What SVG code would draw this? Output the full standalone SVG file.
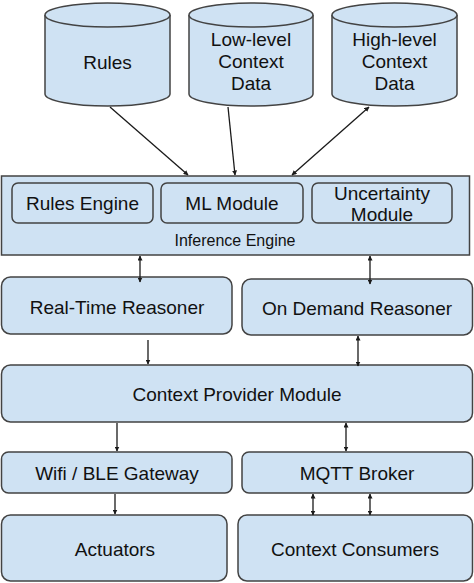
<svg xmlns="http://www.w3.org/2000/svg" width="474" height="583" viewBox="0 0 474 583">
<defs>
<style>
.n{fill:#cfe2f3;stroke:#434343;stroke-width:1.5}
.t{font-family:"Liberation Sans",Arial,sans-serif;font-size:19px;fill:#111111;text-anchor:middle;dominant-baseline:central}
.s{font-size:16px}
.c{stroke:#1a1a1a;stroke-width:1.3;fill:none}
</style>
<marker id="ah" viewBox="0 0 10 10" refX="9" refY="5" markerWidth="5" markerHeight="5" orient="auto-start-reverse" markerUnits="userSpaceOnUse">
<path d="M0,0 L10,5 L0,10 z" fill="#1a1a1a"/>
</marker>
</defs>
<rect width="474" height="583" fill="#ffffff"/>
<g id="rules">
<path class="n" d="M45,15 A62.5,12 0 0,1 170,15 V94 A62.5,12 0 0,1 45,94 Z"/>
<path class="n" d="M45,15 A62.5,12 0 0,0 170,15" fill="none"/>
<text class="t" x="107.5" y="62">Rules</text>
</g>
<g id="lowlevel">
<path class="n" d="M189,15 A62,12 0 0,1 313,15 V94 A62,12 0 0,1 189,94 Z"/>
<path class="n" d="M189,15 A62,12 0 0,0 313,15" fill="none"/>
<text class="t" x="251" y="39">Low-level</text>
<text class="t" x="251" y="61">Context</text>
<text class="t" x="251" y="83">Data</text>
</g>
<g id="highlevel">
<path class="n" d="M332,15 A62.5,12 0 0,1 457,15 V94 A62.5,12 0 0,1 332,94 Z"/>
<path class="n" d="M332,15 A62.5,12 0 0,0 457,15" fill="none"/>
<text class="t" x="394.5" y="39">High-level</text>
<text class="t" x="394.5" y="61">Context</text>
<text class="t" x="394.5" y="83">Data</text>
</g>
<g id="inference">
<rect class="n" x="1.5" y="176" width="468" height="79"/>
<text class="t s" x="235" y="240">Inference Engine</text>
</g>
<g id="rulesengine">
<rect class="n" x="12" y="183" width="141" height="40" rx="6"/>
<text class="t" x="82.5" y="203">Rules Engine</text>
</g>
<g id="mlmodule">
<rect class="n" x="161" y="183" width="142" height="40" rx="6"/>
<text class="t" x="232" y="203">ML Module</text>
</g>
<g id="uncertainty">
<rect class="n" x="312" y="183" width="140" height="40" rx="6"/>
<text class="t" x="382" y="193">Uncertainty</text>
<text class="t" x="382" y="214">Module</text>
</g>
<g id="realtime">
<rect class="n" x="1.5" y="277" width="230.5" height="57" rx="9"/>
<text class="t" x="117" y="307">Real-Time Reasoner</text>
</g>
<g id="ondemand">
<rect class="n" x="242" y="279" width="230.5" height="56" rx="9"/>
<text class="t" x="357" y="308">On Demand Reasoner</text>
</g>
<g id="contextprovider">
<rect class="n" x="1.5" y="365" width="471" height="57" rx="9"/>
<text class="t" x="237" y="394">Context Provider Module</text>
</g>
<g id="gateway">
<rect class="n" x="1.5" y="452" width="230.5" height="41" rx="7"/>
<text class="t" x="117" y="473">Wifi / BLE Gateway</text>
</g>
<g id="mqtt">
<rect class="n" x="242" y="452" width="230.5" height="41" rx="7"/>
<text class="t" x="357" y="473">MQTT Broker</text>
</g>
<g id="actuators">
<rect class="n" x="1.5" y="515" width="225.5" height="66" rx="9"/>
<text class="t" x="115" y="549">Actuators</text>
</g>
<g id="consumers">
<rect class="n" x="238" y="515" width="234.5" height="66" rx="9"/>
<text class="t" x="355" y="549">Context Consumers</text>
</g>
<g id="connectors">
<line class="c" x1="110" y1="107" x2="188" y2="175" marker-end="url(#ah)"/>
<line class="c" x1="228" y1="107" x2="235" y2="175" marker-end="url(#ah)"/>
<line class="c" x1="369" y1="107" x2="292" y2="175" marker-start="url(#ah)" marker-end="url(#ah)"/>
<line class="c" x1="140" y1="256" x2="140" y2="282" marker-start="url(#ah)" marker-end="url(#ah)"/>
<line class="c" x1="370" y1="256" x2="370" y2="284" marker-start="url(#ah)" marker-end="url(#ah)"/>
<line class="c" x1="148" y1="340" x2="148" y2="364" marker-end="url(#ah)"/>
<line class="c" x1="358" y1="336" x2="358" y2="366" marker-start="url(#ah)" marker-end="url(#ah)"/>
<line class="c" x1="117" y1="423" x2="117" y2="451" marker-end="url(#ah)"/>
<line class="c" x1="346" y1="423" x2="346" y2="451" marker-start="url(#ah)" marker-end="url(#ah)"/>
<line class="c" x1="115" y1="494" x2="115" y2="514" marker-end="url(#ah)"/>
<line class="c" x1="313" y1="494" x2="313" y2="515" marker-start="url(#ah)" marker-end="url(#ah)"/>
<line class="c" x1="370" y1="494" x2="370" y2="515" marker-start="url(#ah)" marker-end="url(#ah)"/>
</g>
</svg>
